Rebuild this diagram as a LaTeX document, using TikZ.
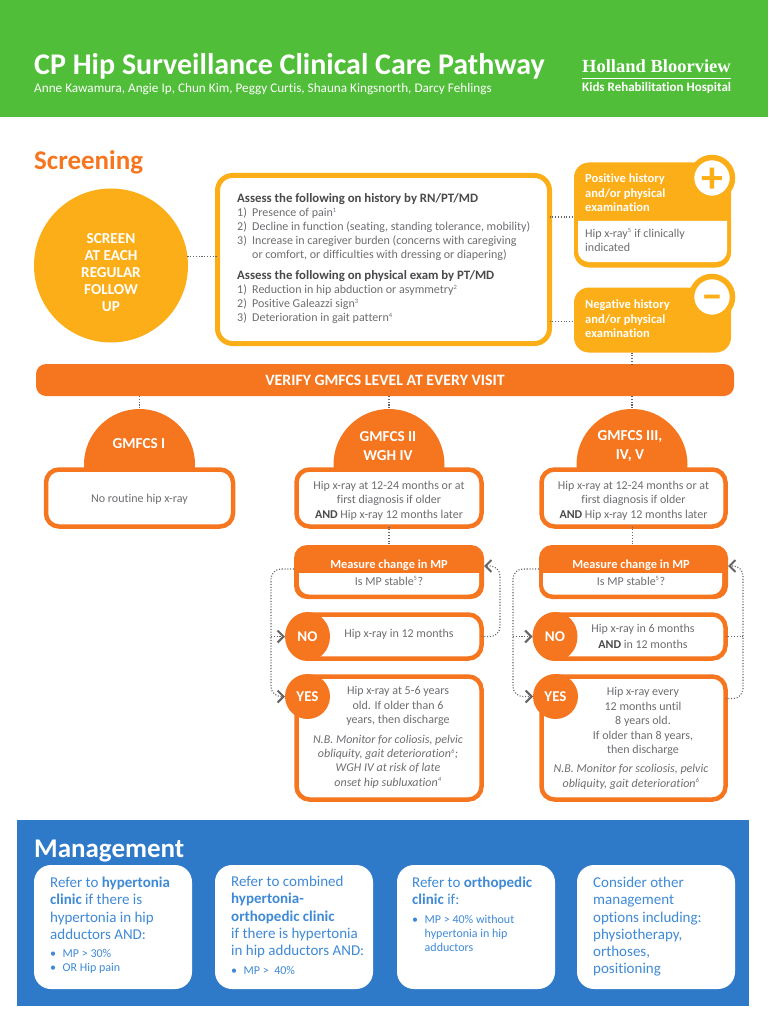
\documentclass[tikz,border=0pt]{standalone}
\usepackage{fontspec}
\usepackage{xcolor}
\usepackage{tikz}
\usetikzlibrary{calc,positioning,arrows.meta,shapes.geometric}
\setmainfont[Ligatures=NoCommon]{Carlito}
\newfontfamily\logofont{Liberation Serif}
\definecolor{hipGreen}{HTML}{50BE38}
\definecolor{hipOrange}{HTML}{F5761F}
\definecolor{hipYellow}{HTML}{FBAE17}
\definecolor{hipBlue}{HTML}{2E7AC9}
\definecolor{hipText}{HTML}{6D6E71}
\definecolor{hipDark}{HTML}{4A4A4D}
\definecolor{hipSky}{HTML}{3F8AD6}
\newcommand{\itm}[1]{\makebox[15pt][l]{#1}}
\newcommand{\bul}{\makebox[12.5pt][l]{\textbullet}}
\newcommand{\fs}[2]{\fontsize{#1}{#2}\selectfont}
\newcommand{\sups}[1]{\textsuperscript{\fs{6.5}{7}#1}}

\begin{document}
\begin{tikzpicture}[
    x=1pt, y=-1pt,
    flowbox/.style={draw=hipOrange, line width=4.5pt, fill=white, rounded corners=13pt, inner sep=0pt, outer sep=0pt},
    headbox/.style={fill=hipOrange, rounded corners=13pt, inner sep=0pt, outer sep=0pt, minimum width=190pt, minimum height=54pt},
    yellowbox/.style={fill=hipYellow, rounded corners=15pt, inner sep=0pt, outer sep=0pt, minimum width=157pt},
    badge/.style={ellipse, fill=hipOrange, inner sep=0pt, outer sep=0pt, text=white, font=\fs{15}{17}\bfseries},
    dome/.style={circle, fill=hipOrange, inner sep=0pt, outer sep=0pt, minimum size=111pt},
    signdisc/.style={circle, draw=hipYellow, line width=5.5pt, fill=white, inner sep=0pt, outer sep=0pt, minimum size=41pt},
    whitetxt/.style={text=white, font=\fs{12.4}{17}\bfseries, align=center, inner sep=0pt},
    domelabel/.style={text=white, font=\fs{15.2}{19}\bfseries, align=center, inner sep=0pt},
    bodytxt/.style={text=hipText, font=\fs{12}{14.4}, align=center, inner sep=0pt},
    notetxt/.style={text=hipText, font=\fs{12}{14.4}\itshape, align=center, inner sep=0pt},
    yellowtxt/.style={text=white, font=\fs{12.5}{14.3}\bfseries, align=left, inner sep=0pt},
    mgmtbox/.style={fill=white, rounded corners=17pt, inner sep=0pt, outer sep=0pt, minimum width=158pt, minimum height=124pt},
    mgmttxt/.style={text=hipSky, font=\fs{15}{17.2}, align=left, inner sep=0pt, anchor=north west},
    dotline/.style={dash pattern=on 1.1pt off 1.7pt, line width=1.1pt, draw=hipDark!85},
    looparr/.style={dotline, rounded corners=10pt, -{Straight Barb[length=6pt, width=12pt, line width=2pt]}}
]
% Banner
\node[fill=hipGreen, minimum width=768pt, minimum height=117pt, inner sep=0pt, outer sep=0pt] (banner) at (384,58.5) {};
\node[anchor=base west, text=white, inner sep=0pt, font=\fs{30}{33}\bfseries] (title) at (34,75) {CP Hip Surveillance Clinical Care Pathway};
\node[anchor=base west, text=white, inner sep=0pt, font=\fs{13.2}{15}] (authors) at (34,93) {Anne Kawamura, Angie Ip, Chun Kim, Peggy Curtis, Shauna Kingsnorth, Darcy Fehlings};
\node[anchor=base west, text=white, inner sep=0pt, font=\fs{18.5}{19}\logofont\bfseries] (logotop) at (582,73) {Holland Bloorview};
\node[anchor=base west, text=white, inner sep=0pt, font=\fs{13}{15}\bfseries] (logolow) at (582,92) {Kids Rehabilitation Hospital};
\draw[white, line width=1pt] (logotop.south west |- 0,79) -- (logolow.north east |- 0,79);

% Screening
\node[anchor=base west, text=hipOrange, inner sep=0pt, font=\fs{27}{28}\bfseries] (screening) at (34,170) {Screening};
\node[circle, fill=hipYellow, minimum size=154pt, inner sep=0pt, outer sep=0pt] (screen) at (111,265.5) {};
\node[text=white, inner sep=0pt, align=center, font=\fs{15.2}{17}\bfseries] (screentxt) at (111,273) {SCREEN\\AT EACH\\REGULAR\\FOLLOW\\UP};
\node[draw=hipYellow, line width=5pt, fill=white, rounded corners=15pt, minimum width=332pt, minimum height=168pt, inner sep=0pt, outer sep=0pt] (assess) at (383.5,259.5) {};
\node[anchor=west, text=hipText, inner sep=0pt, align=left, font=\fs{12}{14.2}] (assesstxt) at (237,258.5) {%
{\color{hipDark}\fs{12.8}{14.2}\bfseries Assess the following on history by RN/PT/MD}\\
\itm{1)}Presence of pain\sups{1}\\
\itm{2)}Decline in function (seating, standing tolerance, mobility)\\
\itm{3)}Increase in caregiver burden (concerns with caregiving\\
\itm{}or comfort, or difficulties with dressing or diapering)\\[6pt]
{\color{hipDark}\fs{12.8}{14.2}\bfseries Assess the following on physical exam by PT/MD}\\
\itm{1)}Reduction in hip abduction or asymmetry\sups{2}\\
\itm{2)}Positive Galeazzi sign\sups{3}\\
\itm{3)}Deterioration in gait pattern\sups{4}};

% Positive and negative
\node[yellowbox, minimum height=105pt] (posbox) at (652.5,215) {};
\fill[white] (578,221) -- (727,221) [rounded corners=11pt] -- (727,262) -- (578,262) [sharp corners] -- cycle;
\node[signdisc] (plus) at (712,178) {};
\node[text=hipYellow, inner sep=0pt, font=\fs{44}{44}\bfseries] (plussign) at ([yshift=-2pt]plus) {+};
\node[yellowtxt, anchor=north west] (postxt) at (585,174) {Positive history\\and/or physical\\examination};
\node[text=hipText, inner sep=0pt, align=left, font=\fs{12}{14.3}, anchor=north west] (posnote) at (585,228.5) {Hip x-ray\sups{5} if clinically\\indicated};
\node[yellowbox, minimum height=65pt, below=20pt of posbox] (negbox) {};
\node[signdisc] (minus) at (712,297) {};
\node[text=hipYellow, inner sep=0pt, font=\fs{44}{44}\bfseries] (minussign) at ([yshift=-5pt]minus) {–};
\node[yellowtxt, anchor=north west] (negtxt) at (585,300) {Negative history\\and/or physical\\examination};

% Bar
\node[fill=hipOrange, rounded corners=10pt, minimum width=698pt, minimum height=32pt, inner sep=0pt, outer sep=0pt, text=white, font=\fs{15.8}{17}\bfseries] (verify) at (385,380) {VERIFY GMFCS LEVEL AT EVERY VISIT};

% GMFCS columns
\node[dome] (domea) at (139.5,464.5) {};
\node[flowbox, minimum width=187pt, minimum height=57pt] (xraya) at (139.5,498) {};
\node[dome, right=138.5pt of domea] (domeb) {};
\node[flowbox, minimum width=185pt, minimum height=57pt, right=63.5pt of xraya] (xrayb) {};
\node[dome, right=132pt of domeb] (domec) {};
\node[flowbox, minimum width=184pt, minimum height=57pt, right=60pt of xrayb] (xrayc) {};
\node[domelabel] (labela) at (139,444) {GMFCS I};
\node[domelabel] (labelb) at (388,446.5) {GMFCS II\\WGH IV};
\node[domelabel] (labelc) at (630,446.5) {GMFCS III,\\IV, V};
\node[bodytxt] (txta) at ([yshift=-1pt]xraya) {No routine hip x-ray};
\node[bodytxt] (txtb) at ([yshift=-2.5pt]xrayb) {Hip x-ray at 12-24 months or at\\first diagnosis if older\\{\color{hipDark}\bfseries AND} Hip x-ray 12 months later};
\node[bodytxt] (txtc) at ([yshift=-2.5pt]xrayc) {Hip x-ray at 12-24 months or at\\first diagnosis if older\\{\color{hipDark}\bfseries AND} Hip x-ray 12 months later};

% Column II
\node[headbox, below=18.5pt of xrayb] (measb) {};
\fill[white] (299,573) -- (479,573) [rounded corners=10pt] -- (479,594.5) -- (299,594.5) [sharp corners] -- cycle;
\node[whitetxt] (measbhead) at (389,565) {Measure change in MP};
\node[bodytxt] (measbtxt) at (389,581) {Is MP stable\sups{5}?};
\node[flowbox, minimum width=185pt, minimum height=44pt, below=15.5pt of measb] (rowb) {};
\node[flowbox, minimum width=185pt, minimum height=123pt, below=18pt of rowb] (yesb) {};
\node[badge, minimum width=45pt, minimum height=49pt] (nob) at ($(rowb.west)+(11,0)$) {NO};
\node[badge, minimum width=45pt, minimum height=45pt] (yb) at (307.5,696.5) {YES};
\node[bodytxt] (rowbtxt) at (399,634) {Hip x-ray in 12 months};
\node[bodytxt] (yesbtxt) at (398,706) {Hip x-ray at 5-6 years\\old. If older than 6\\years, then discharge};
\node[notetxt] (yesbnote) at (388,761.5) {N.B. Monitor for coliosis, pelvic\\obliquity, gait deterioration\sups{6};\\WGH IV at risk of late\\onset hip subluxation\sups{4}};

% Column III
\node[headbox, minimum width=189pt, below=18.5pt of xrayc] (measc) {};
\fill[white] (543,573) -- (722,573) [rounded corners=10pt] -- (722,594.5) -- (543,594.5) [sharp corners] -- cycle;
\node[whitetxt] (meascHead) at (631,565) {Measure change in MP};
\node[bodytxt] (measctxt) at (631,581) {Is MP stable\sups{5}?};
\node[flowbox, minimum width=184pt, minimum height=44pt, below=15.5pt of measc] (rowc) {};
\node[flowbox, minimum width=184pt, minimum height=123pt, below=18pt of rowc] (yesc) {};
\node[badge, minimum width=45pt, minimum height=49pt] (noc) at ($(rowc.west)+(13.5,0)$) {NO};
\node[badge, minimum width=45pt, minimum height=45pt] (yc) at (555.5,696.5) {YES};
\node[bodytxt] (rowctxt) at (643,636) {Hip x-ray in 6 months\\[1.7pt]{\color{hipDark}\bfseries AND} in 12 months};
\node[bodytxt] (yesctxt) at (643,721.5) {Hip x-ray every\\12 months until\\8 years old.\\If older than 8 years,\\then discharge};
\node[notetxt] (yescnote) at (631,777) {N.B. Monitor for scoliosis, pelvic\\obliquity, gait deterioration\sups{6}};

% Connectors
\coordinate (loopbl) at (271,640);
\coordinate (loopbr) at (500,600);
\coordinate (loopcl) at (513,640);
\coordinate (loopcr) at (743,640);
\draw[dotline] (screen.7) -- (screen.7 -| assess.west);
\draw[dotline] ($(assess.east |- posbox.west)+(0,2)$) -- ($(posbox.west)+(0,2)$);
\draw[dotline] ($(assess.east |- negbox.west)+(0,1.5)$) -- ($(negbox.west)+(0,1.5)$);
\draw[dotline] (negbox.south -| domec.north) -- (verify.north -| domec.north);
\draw[dotline] (verify.south -| domea.north) -- (domea.north);
\draw[dotline] (verify.south -| domeb.north) -- (domeb.north);
\draw[dotline] (verify.south -| domec.north) -- (domec.north);
\draw[dotline] (xrayb.south) -- (measb.north);
\draw[dotline] ([xshift=-1pt]xrayc.south) -- ([xshift=-1pt]measc.north);
\draw[looparr] ([yshift=3pt]measb.west) -| (loopbl) |- (yb.west);
\draw[looparr, rounded corners=0pt] (loopbl |- nob.west) -- (nob.west);
\draw[looparr] (rowb.east) -| (loopbr) |- ([yshift=6pt]measb.east);
\draw[looparr] ([yshift=3pt]measc.west) -| (loopcl) |- (yc.west);
\draw[looparr, rounded corners=0pt] (loopcl |- noc.west) -- (noc.west);
\draw[dotline] (rowc.east) -- (loopcr |- rowc.east);
\draw[looparr] ([yshift=-2pt]yesc.east |- yc.west) -| (loopcr) |- ([yshift=6pt]measc.east);

% Management
\node[fill=hipBlue, minimum width=732pt, minimum height=186pt, inner sep=0pt, outer sep=0pt] (mgmt) at (383,913) {};
\node[anchor=base west, text=white, inner sep=0pt, font=\fs{27}{30}\bfseries] (mgmthead) at (34,857) {Management};
\node[mgmtbox] (mgmta) at (113,927) {};
\node[mgmtbox, right=23pt of mgmta] (mgmtb) {};
\node[mgmtbox, right=24pt of mgmtb] (mgmtc) {};
\node[mgmtbox, right=22pt of mgmtc] (mgmtd) {};
\node[mgmttxt, below right=12pt and 16pt of mgmta.north west] (mgmtatxt) {Refer to {\bfseries hypertonia}\\{\bfseries clinic} if there is\\hypertonia in hip\\adductors AND:\\[1pt]
{\fs{12}{14}\bul MP > 30\%}\\[-3pt]{\fs{12}{14}\bul OR Hip pain}};
\node[mgmttxt, below right=11pt and 16pt of mgmtb.north west] (mgmtbtxt) {Refer to combined\\{\bfseries hypertonia-}\\{\bfseries orthopedic clinic}\\if there is hypertonia\\in hip adductors AND:\\[2pt]
{\fs{12}{14}\bul MP >\ \ 40\%}};
\node[mgmttxt, below right=12pt and 15pt of mgmtc.north west] (mgmtctxt) {Refer to {\bfseries orthopedic}\\{\bfseries clinic} if:\\[1pt]
{\fs{12}{14}\bul MP > 40\% without}\\[-3pt]{\fs{12}{14}\hspace*{12.5pt}hypertonia in hip}\\[-3pt]{\fs{12}{14}\hspace*{12.5pt}adductors}};
\node[mgmttxt, below right=12pt and 16pt of mgmtd.north west] (mgmtdtxt) {Consider other\\management\\options including:\\physiotherapy,\\orthoses,\\positioning};
\useasboundingbox (0,0) rectangle (768,1024);
\end{tikzpicture}
\end{document}
